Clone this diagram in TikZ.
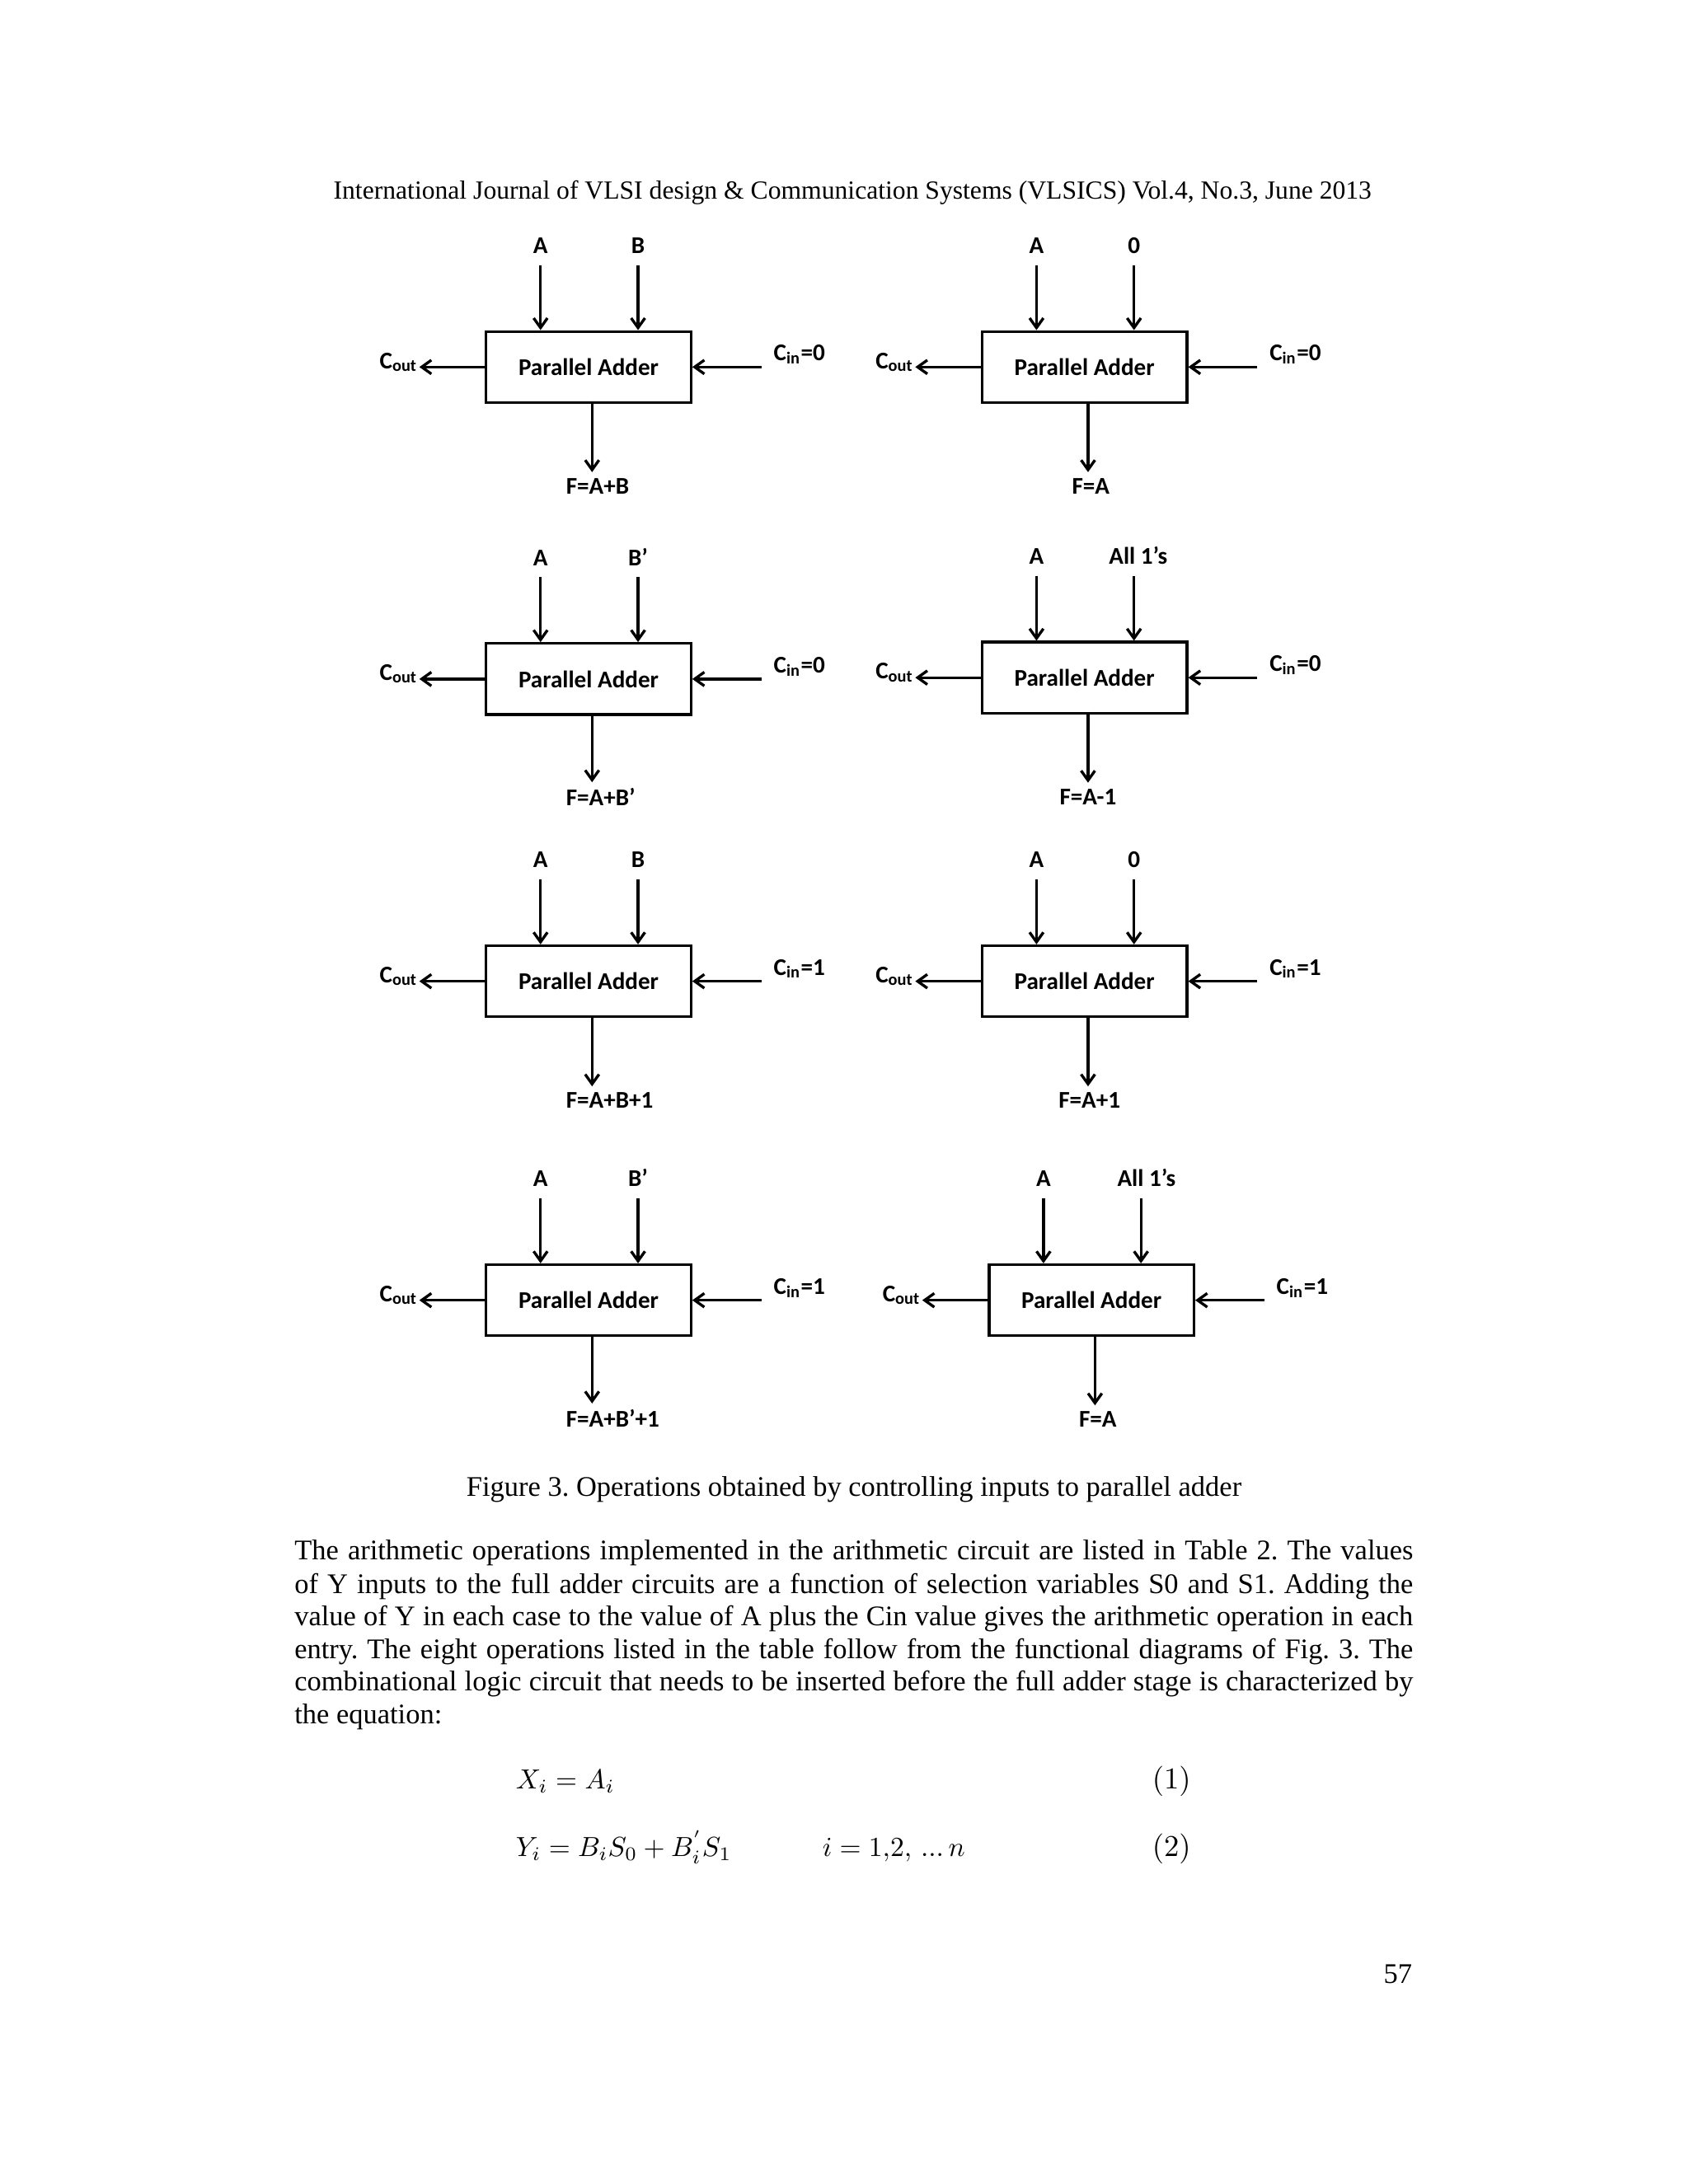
\documentclass[tikz,border=0pt]{standalone}
\usepackage{fontspec}
\setmainfont{Liberation Serif}
\newfontfamily\dfont{Carlito}
\usetikzlibrary{arrows.meta}
\frenchspacing
\tikzset{
 pabox/.style={draw, line width=1pt, minimum width=74.2pt, minimum height=25.75pt, inner sep=0pt, font=\dfont\bfseries\fontsize{8.7}{10}\selectfont},
 lbl/.style={inner sep=1pt, font=\dfont\bfseries\fontsize{8.7}{10}\selectfont},
 arr/.style={line width=1pt, -{Straight Barb[length=3.5pt,width=5pt]}},
 txt/.style={inner sep=0pt, font=\fontsize{10.3}{12}\selectfont},
 eqn/.style={inner sep=0pt, font=\fontsize{9.6}{12}\selectfont},
}
% #1 id, #2 left, #3 top, #4 second input, #5 carry in, #6 F text, #7 F x, #8 F anchor, #9 shift of second label
\newcommand{\padd}[9]{%
 \node[pabox, anchor=north west] (box#1) at (#2,#3) {Parallel Adder};
 \coordinate (at#1) at (#2+40,#3);
 \coordinate (bt#1) at (#2+110,#3);
 \node[lbl, anchor=base] (a#1) at (#2+40,#3-55) {A};
 \node[lbl, anchor=base] (b#1) at (#2+110+#9,#3-55) {#4};
 \draw[arr, shorten <=3pt] (a#1.south) -- (at#1);
 \draw[arr, shorten <=3pt] (b#1.south -| bt#1) -- (bt#1);
 \node[lbl, inner sep=0.4pt, anchor=base east] (co#1) at (#2-47,#3+27.5) {C\textsubscript{out}};
 \draw[arr] (box#1.west) -- (box#1.west -| co#1.east);
 \node[lbl, anchor=base west] (ci#1) at (#2+205,#3+22) {C\textsubscript{in}=#5};
 \draw[arr, shorten <=3.3pt] (ci#1.west |- box#1.east) -- (box#1.east);
 \coordinate (o#1) at (#2+77,#3+51);
 \node[lbl, anchor=#8] (f#1) at (#7,#3+117.5) {#6};
 \draw[arr, shorten >=1pt] (o#1) -- (o#1 |- f#1.north);
}
\begin{document}
\begin{tikzpicture}[x=0.5049pt,y=-0.5049pt]
\fill[white] (0,0) rectangle (1212,1568);
\useasboundingbox (0,0) rectangle (1212,1568);

\node[txt, anchor=base, font=\fontsize{9.45}{11}\selectfont] (hdr) at (612,143) {International Journal of VLSI design \& Communication Systems (VLSICS) Vol.4, No.3, June 2013};

\padd{1}{348}{237}{B}{0}{F=A+B}{404}{base west}{0}
\padd{2}{704}{237}{0}{0}{F=A}{783}{base}{0}
\padd{3}{348}{461}{B’}{0}{F=A+B’}{404}{base west}{0}
\padd{4}{704}{460}{All 1’s}{0}{F=A-1}{781}{base}{3}
\padd{5}{348}{678}{B}{1}{F=A+B+1}{404}{base west}{0}
\padd{6}{704}{678}{0}{1}{F=A+1}{782}{base}{0}
\padd{7}{348}{907}{B’}{1}{F=A+B’+1}{404}{base west}{0}
\padd{8}{709}{907}{All 1’s}{1}{F=A}{788}{base}{4}

\node[txt, anchor=base] (cap) at (613,1074) {Figure 3. Operations obtained by controlling inputs to parallel adder};

\node[txt, anchor=base west] (p1) at (211,1120) {\makebox[405.4pt][s]{The arithmetic operations implemented in the arithmetic circuit are listed in Table 2. The values}};
\node[txt, anchor=base west] (p2) at (211,1144) {\makebox[405.4pt][s]{of Y inputs to the full adder circuits are a function of selection variables S0 and S1. Adding the}};
\node[txt, anchor=base west] (p3) at (211,1167) {\makebox[405.4pt][s]{value of Y in each case to the value of A plus the Cin value gives the arithmetic operation in each}};
\node[txt, anchor=base west] (p4) at (211,1191) {\makebox[405.4pt][s]{entry. The eight operations listed in the table follow from the functional diagrams of Fig. 3. The}};
\node[txt, anchor=base west] (p5) at (211,1214) {\makebox[405.4pt][s]{combinational logic circuit that needs to be inserted before the full adder stage is characterized by}};
\node[txt, anchor=base west] (p6) at (211,1237.5) {the equation:};

\node[eqn, anchor=base west] (eq1) at (370,1284) {$X_i = A_i$};
\node[eqn, anchor=base, font=\fontsize{10.5}{12}\selectfont] (n1) at (841,1284) {$(1)$};
\node[eqn, anchor=base west] (eq2) at (370,1333) {$Y_i = B_iS_0 + B_i^{'}S_1$};
\node[eqn, anchor=base west] (eq3) at (590,1333) {$i = 1{,}2,\,{\ldotp}{\ldotp}{\ldotp}\,n$};
\node[eqn, anchor=base, font=\fontsize{10.5}{12}\selectfont] (n2) at (841,1333) {$(2)$};

\node[txt, anchor=base east] (pg) at (1014,1424) {57};
\end{tikzpicture}
\end{document}
